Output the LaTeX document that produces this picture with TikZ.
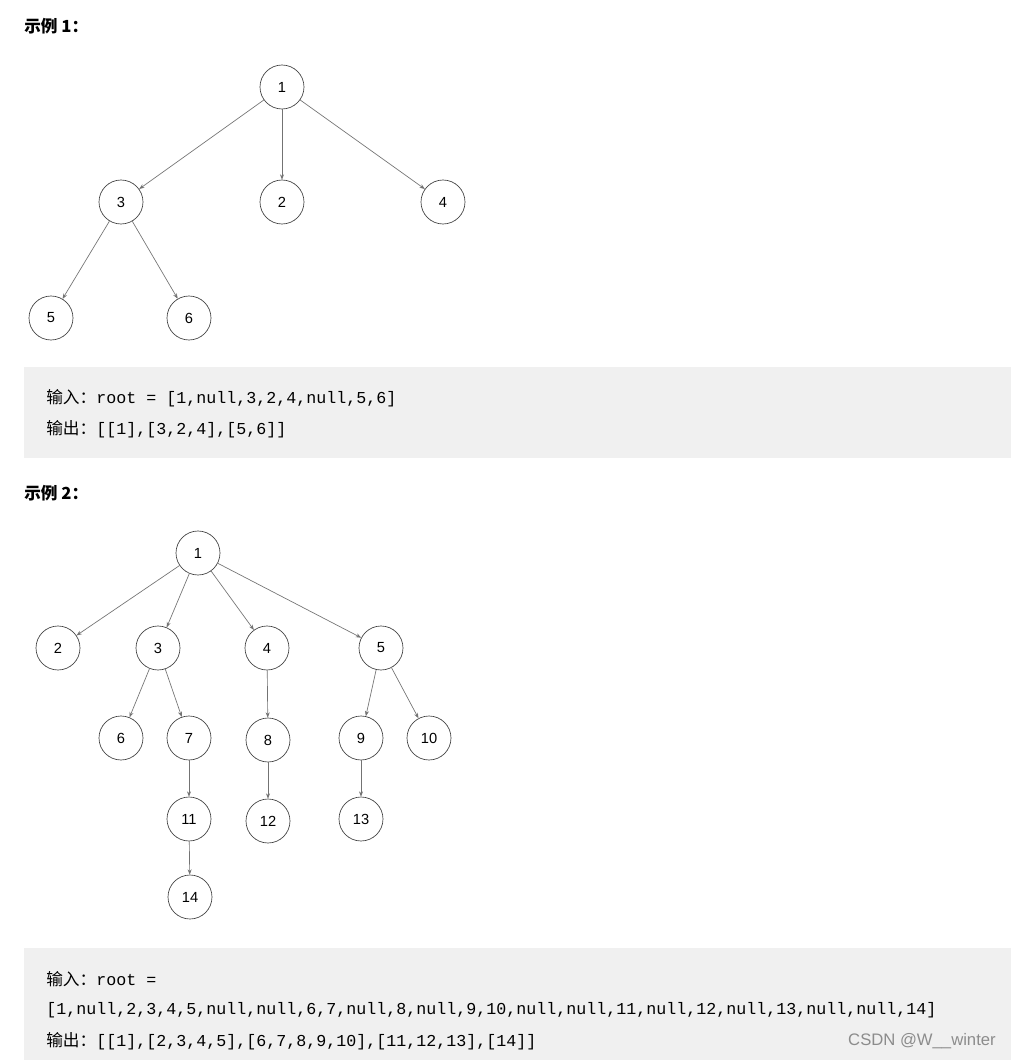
\documentclass[tikz,border=0pt]{standalone}
\usepackage{fontspec}
\setmainfont{Liberation Sans}
\setmonofont{Liberation Mono}
\newfontfamily\cjk{Noto Sans CJK SC}
\usetikzlibrary{arrows.meta}
\begin{document}
\begin{tikzpicture}[x=0.75pt,y=-0.75pt,
  tn/.style={circle,draw=black!75,line width=0.5pt,minimum size=33pt,inner sep=0pt,font=\fontsize{11}{13}\selectfont},
  ed/.style={draw=black!55,line width=0.5pt,-{Stealth[length=4pt,width=3pt]}},
  codebox/.style={fill=black!6,draw=none},
  code/.style={anchor=west,inner sep=0pt,font=\fontsize{12.5}{14}\selectfont\ttfamily},
  head/.style={anchor=west,inner sep=0pt,font=\cjk\bfseries\fontsize{12.5}{14}\selectfont}]
\useasboundingbox (0,0) rectangle (1011,1060);
\fill[white] (0,0) rectangle (1011,1060);
\node[head] (h1) at (24,26) {示例 1：};
\node[tn] (a1) at (282,87) {1};
\node[tn] (a3) at (121,202) {3};
\node[tn] (a2) at (282,202) {2};
\node[tn] (a4) at (443,202) {4};
\node[tn] (a5) at (51,318) {5};
\node[tn] (a6) at (189,318) {6};
\draw[ed] (a1)--(a3); \draw[ed] (a1)--(a2); \draw[ed] (a1)--(a4);
\draw[ed] (a3)--(a5); \draw[ed] (a3)--(a6);
\fill[codebox] (24,367) rectangle (1011,458);
\node[code] (c1) at (46,398) {{\cjk 输入：}root = [1,null,3,2,4,null,5,6]};
\node[code] (c2) at (46,429) {{\cjk 输出：}[[1],[3,2,4],[5,6]]};
\node[head] (h2) at (24,493) {示例 2：};
\node[tn] (b1) at (198,553) {1};
\node[tn] (b2) at (58,648) {2};
\node[tn] (b3) at (158,648) {3};
\node[tn] (b4) at (267,648) {4};
\node[tn] (b5) at (381,648) {5};
\node[tn] (b6) at (121,738) {6};
\node[tn] (b7) at (189,738) {7};
\node[tn] (b8) at (268,740) {8};
\node[tn] (b9) at (361,738) {9};
\node[tn] (b10) at (429,738) {10};
\node[tn] (b11) at (189,819) {11};
\node[tn] (b12) at (268,821) {12};
\node[tn] (b13) at (361,819) {13};
\node[tn] (b14) at (190,897) {14};
\foreach \p/\c in {b1/b2,b1/b3,b1/b4,b1/b5,b3/b6,b3/b7,b4/b8,b5/b9,b5/b10,b7/b11,b8/b12,b9/b13,b11/b14}
  \draw[ed] (\p)--(\c);
\fill[codebox] (24,948) rectangle (1011,1060);
\node[code] (d1) at (46,979) {{\cjk 输入：}root =};
\node[code] (d2) at (46,1010) {[1,null,2,3,4,5,null,null,6,7,null,8,null,9,10,null,null,11,null,12,null,13,null,null,14]};
\node[code] (d3) at (46,1041) {{\cjk 输出：}[[1],[2,3,4,5],[6,7,8,9,10],[11,12,13],[14]]};
\node[anchor=east,inner sep=0pt,text=black!45,font=\fontsize{12.5}{14}\selectfont] (wm) at (996,1041) {CSDN @W\_\_winter};
\end{tikzpicture}
\end{document}
